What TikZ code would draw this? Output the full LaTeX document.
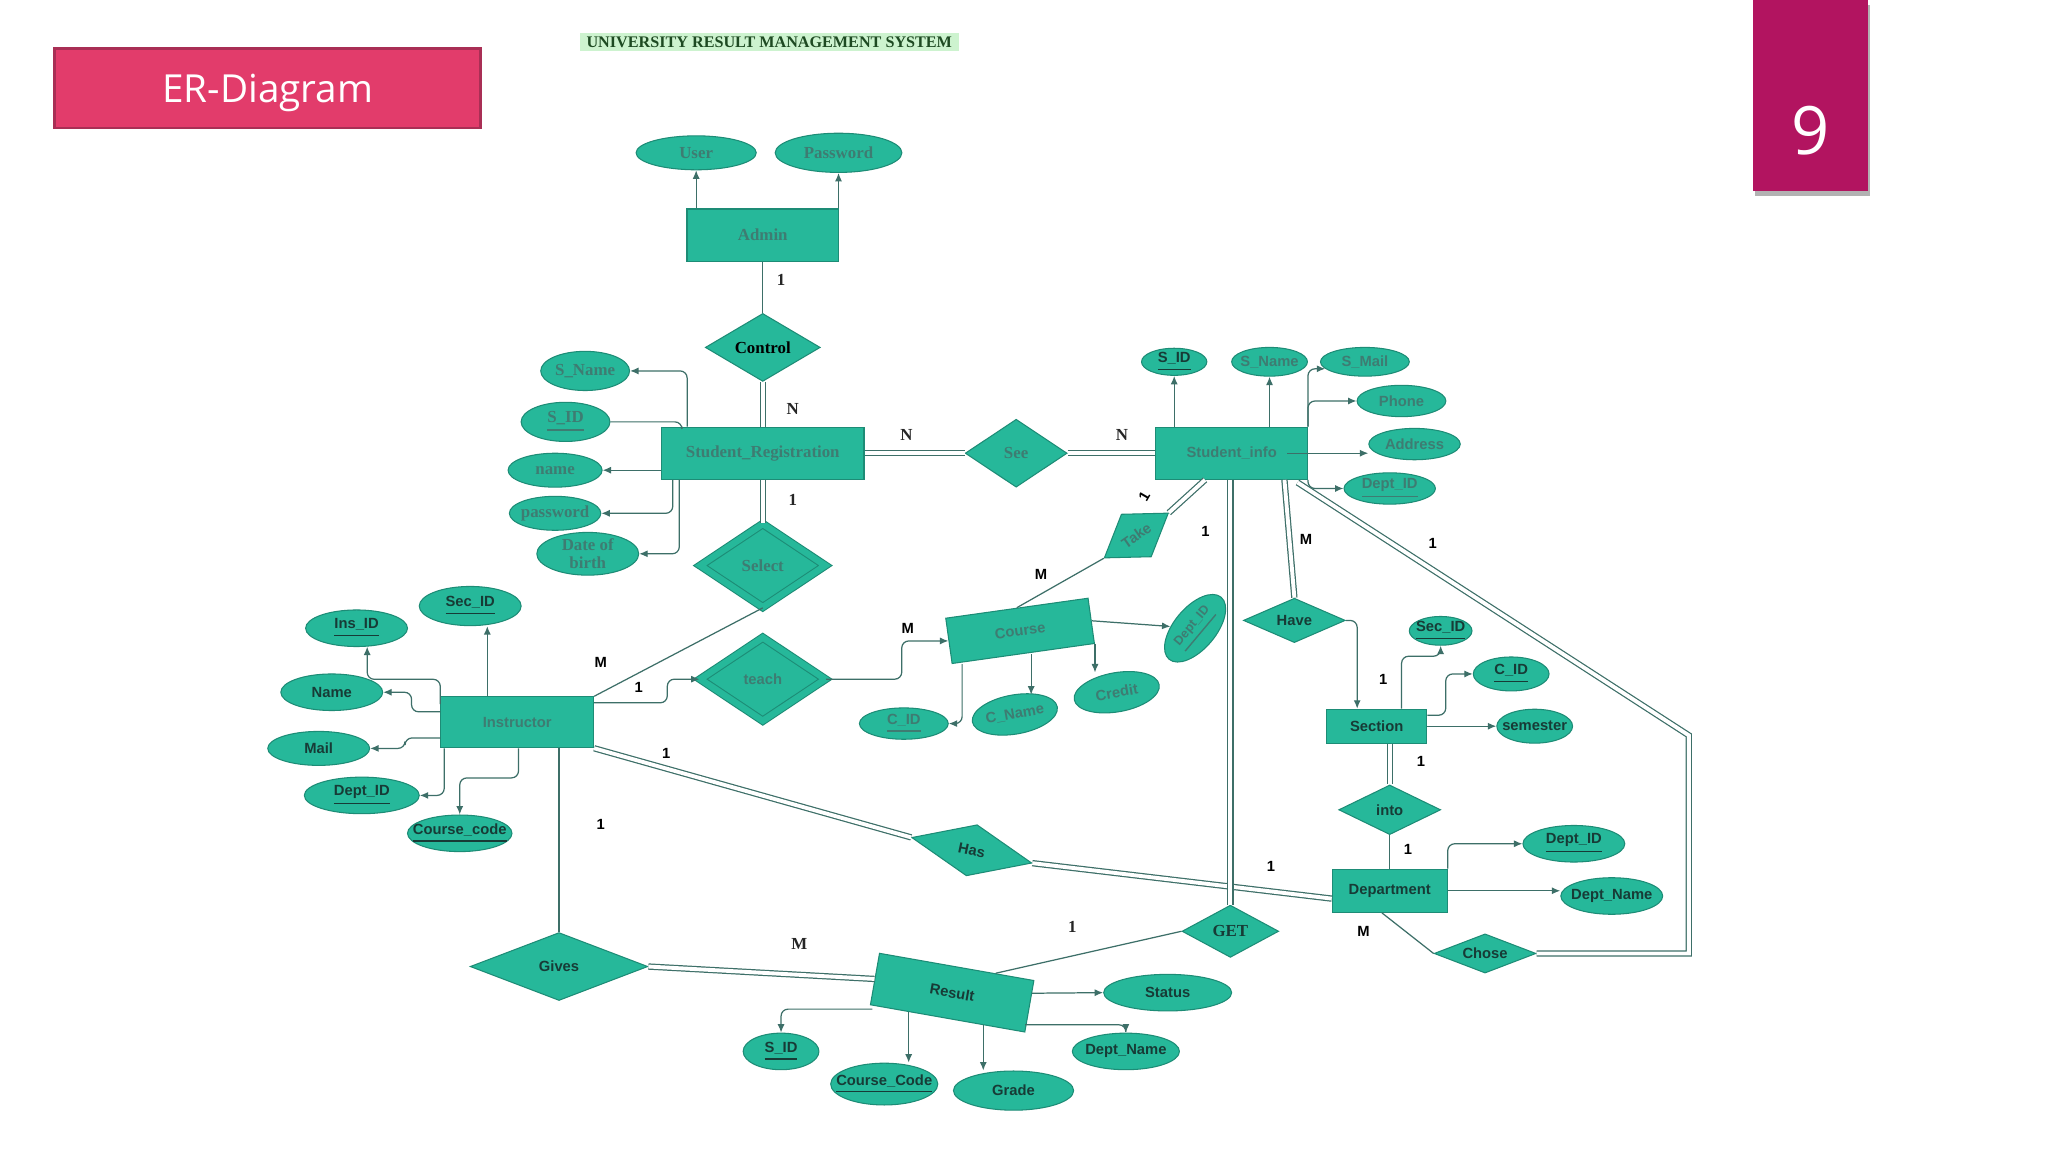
\documentclass[tikz,border=0pt]{standalone}
\usepackage{fontspec}
\setmainfont{Liberation Serif}
\setsansfont{Liberation Sans}
\newfontfamily\slidefont{Open Sans}
\usetikzlibrary{shapes.geometric,arrows.meta,calc}

\definecolor{erfill}{HTML}{26B89A}
\definecolor{erline}{HTML}{1D8C76}
\definecolor{edgec}{HTML}{3D6F68}
\definecolor{ink}{HTML}{173B36}
\definecolor{dim}{HTML}{3E7C72}
\definecolor{titlepink}{HTML}{E23C6B}
\definecolor{titleedge}{HTML}{A92F55}
\definecolor{pagebox}{HTML}{B21460}
\definecolor{hilite}{HTML}{CDF3CF}
\definecolor{titleink}{HTML}{1E4A22}

\def\pxu{0.013061cm}
\newcommand\sfn{\sffamily\bfseries\fontsize{4.2}{5}\selectfont}
\newcommand\rmn{\rmfamily\bfseries\fontsize{4.8}{5.2}\selectfont}

\tikzset{
  base/.style={draw=erline, fill=erfill, line width=0.3pt, inner sep=0pt, font=\sfn, text=ink},
  ent/.style={base, rectangle},
  att/.style={base, ellipse,
    execute at begin node={\hbox to 0pt\bgroup\hss},
    execute at end node={\hss\egroup}},
  rel/.style={att, diamond},
  wrel/.style={rel, double=erfill, double distance=1.8pt},
  sz/.style 2 args={minimum width=#1*\pxu, minimum height=#2*\pxu},
  tms/.style={font=\rmn},
  pale/.style={text=dim},
  ln/.style={draw=edgec, line width=0.35pt},
  dln/.style={ln, double=white, double distance=1.1pt},
  arr/.style={ln, -{Latex[length=2.4pt,width=2pt]}, rounded corners=2pt},
  card/.style={font=\sfn, text=black},
  cardr/.style={font=\rmn, text=black!85},
}

\begin{document}
\begin{tikzpicture}[x=\pxu, y=-\pxu]

\useasboundingbox (0,0) rectangle (1568,882);
\fill[white] (0,0) rectangle (1568,882);

% Slide title and page number
\node[draw=titleedge, fill=titlepink, line width=0.8pt, sz={326}{61}, text depth=0pt,
      font=\slidefont\fontsize{11}{13}\selectfont, text=white] (slidetitle) at (205,67.5) {ER-Diagram};

\fill[black!30] (1344,4) rectangle (1432,150);
\fill[pagebox] (1342,0) rectangle (1430,146);
\node[font=\slidefont\fontsize{19}{19}\selectfont, text=white] (pgnum) at (1386,100) {9};

\node[fill=hilite, font=\rmfamily\bfseries\fontsize{4.6}{5}\selectfont, text=titleink,
      inner xsep=2pt, inner ysep=1pt] (heading) at (589,32) {UNIVERSITY RESULT MANAGEMENT SYSTEM};

% Admin
\node[ent, tms, pale, sz={116}{40}] (admin) at (584,180) {Admin};
\node[att, tms, pale, sz={92}{26}] (user) at (533,117) {User};
\node[att, tms, pale, sz={97}{30}] (pass) at (642,117) {Password};
\node[rel, tms, sz={88}{52}, text=black] (control) at (584,266) {Control};

\draw[arr] (user.south |- admin.north) -- (user.south);
\draw[arr] (pass.south |- admin.north) -- (pass.south);
\draw[ln] (admin) -- (control);

% Student_Registration
\node[ent, tms, pale, sz={155}{40}] (sreg) at (584,347) {Student\_Registration};
\node[att, tms, pale, sz={68}{30}] (sname) at (448,284) {S\_Name};
\node[att, tms, pale, sz={68}{30}] (sid) at (433,323) {\underline{S\_ID}};
\node[att, tms, pale, sz={72}{26}] (name) at (425,360) {name};
\node[att, tms, pale, sz={70}{26}] (pwd) at (425,393) {password};
\node[att, tms, pale, sz={78}{30}] (dob) at (450,424) {\shortstack{Date of\\[-1.2pt]birth}};
\node[wrel, tms, pale, sz={96}{64}] (select) at (584,433) {Select};
\node[rel, tms, pale, sz={78}{52}] (see) at (778,347) {See};

\draw[dln] (control) -- (sreg);
\draw[arr] ($(sreg.north west)+(20,0)$) |- (sname.east);
\draw[ln, rounded corners=2pt] (sid.east) -| ($(sreg.north west)+(16,0)$);
\draw[arr] (sreg.west |- name.east) -- (name.east);
\draw[arr] ($(sreg.south west)+(9,0)$) |- (pwd.east);
\draw[arr] ($(sreg.south west)+(14,0)$) |- (dob.east);
\draw[dln] (sreg) -- (select);
\draw[dln] (sreg) -- (see);

% Student_info
\node[ent, pale, sz={116}{40}] (sinfo) at (943,347) {Student\_info};
\node[att, sz={50}{20}] (sid2) at (899,277) {\underline{S\_ID}};
\node[att, pale, sz={58}{22}] (sn2) at (972,277) {S\_Name};
\node[att, pale, sz={68}{22}] (smail) at (1045,277) {S\_Mail};
\node[att, pale, sz={68}{24}] (phone) at (1073,307) {Phone};
\node[att, pale, sz={70}{24}] (addr) at (1083,340) {Address};
\node[att, pale, sz={70}{24}] (did2) at (1064,374) {\underline{Dept\_ID}};

\draw[dln] (see) -- (sinfo);
\draw[arr] (sid2.south |- sinfo.north) -- (sid2.south);
\draw[arr] (sn2.south |- sinfo.north) -- (sn2.south);
\draw[arr] (sinfo.north east) |- (smail.190);
\draw[arr] (sinfo.north east) |- (phone.west);
\draw[arr] ($(sinfo.east)+(-16,0)$) -- (addr.west |- sinfo.east);
\draw[arr] (sinfo.south east) |- (did2.west);

% Course
\node[rel, pale, sz={60}{40}, rotate=35] (take) at (870,410) {Take};
\node[ent, pale, sz={110}{35}, rotate=8] (course) at (781,483) {Course};
\node[att, pale, sz={62}{32}, rotate=50, font=\sffamily\bfseries\fontsize{3.6}{4}\selectfont] (cdid) at (915,481) {\underline{Dept\_ID}};
\node[att, pale, sz={68}{24}] (cid) at (692,554) {\underline{C\_ID}};
\node[att, pale, sz={66}{30}, rotate=10] (cname) at (777,547) {C\_Name};
\node[att, pale, sz={66}{30}, rotate=10] (credit) at (855,530) {Credit};
\node[wrel, pale, sz={96}{64}] (teach) at (584,520) {teach};

\draw[dln] ($(sinfo.south west)+(38,0)$) -- (take.east);
\draw[ln] (take.west) -- (course.north);
\draw[arr] (course.east) -- (cdid);
\draw[arr] ($(course.south west)+(8,0)$) |- (cid.east);
\draw[arr] ($(course.south)+(6,0)$) coordinate (c1) -- (c1 |- cname.north);
\draw[arr] (course.south east) coordinate (c2) -- (c2 |- credit.north);
\draw[arr] (teach.east) -- ++(58,0) |- (course.west);

% Instructor
\node[ent, pale, sz={117}{39}] (instr) at (396,553) {Instructor};
\node[att, sz={78}{28}] (insid) at (273,481) {\underline{Ins\_ID}};
\node[att, sz={78}{30}] (secid) at (360,464) {\underline{Sec\_ID}};
\node[att, sz={78}{28}] (nm) at (254,530) {Name};
\node[att, sz={78}{26}] (mail) at (244,573) {Mail};
\node[att, sz={88}{28}] (idept) at (277,609) {\underline{Dept\_ID}};
\node[att, sz={80}{28}] (ccode) at (352,638) {\underline{Course\_code}};

\draw[ln] (select.south) -- (instr.north east);
\draw[arr] ($(instr.north west)+(0,6)$) |- ($(insid.-60)+(0,25)$) -- (insid.-60);
\draw[arr] ($(instr.north west)+(36,0)$) coordinate (i1) -- (i1 |- secid.south);
\draw[arr] ($(instr.west)+(0,-8)$) -- ++(-22,0) |- (nm.east);
\draw[arr] ($(instr.west)+(0,12)$) -- ++(-27,0) |- (mail.east);
\draw[arr] ($(instr.south west)+(3,0)$) |- (idept.east);
\draw[arr] ($(instr.south)+(1,0)$) |- ($(ccode.north)+(0,-28)$) -- (ccode.north);
\draw[arr] ($(instr.north east)+(0,5)$) -- ++(56,0) |- (teach.west);

% Section and Department
\node[rel, sz={78}{34}] (have) at (991,475) {Have};
\node[ent, sz={77}{26}] (section) at (1054,556) {Section};
\node[att, sz={48}{22}] (secid2) at (1103,483) {\underline{Sec\_ID}};
\node[att, sz={58}{26}] (cid2) at (1157,516) {\underline{C\_ID}};
\node[att, sz={58}{26}] (semester) at (1175,556) {semester};
\node[rel, sz={78}{38}] (into) at (1064,620) {into};
\node[ent, sz={88}{33}] (dept) at (1064,682) {Department};
\node[att, sz={78}{28}] (did3) at (1205,646) {\underline{Dept\_ID}};
\node[att, sz={78}{28}] (dname) at (1234,686) {Dept\_Name};
\node[rel, sz={78}{30}] (chose) at (1137,730) {Chose};
\coordinate (loopc) at (1293,563);

\draw[dln] ($(sinfo.south east)+(-18,0)$) -- (have.north);
\draw[arr] (have.east) -| ($(section.north west)+(24,0)$);
\draw[arr] ($(section.north west)+(58,0)$) |- ($(secid2.south)+(0,8)$) -- (secid2.south);
\draw[arr] ($(section.north east)+(0,5)$) -- ++(14,0) |- (cid2.west);
\draw[arr] (section.east) -- (semester.west);
\draw[dln] (into.north |- section.south) -- (into.north);
\draw[ln] (into) -- (dept);
\draw[arr] (dept.north east) |- (did3.west);
\draw[arr] (dept.east) -- (dname.west |- dept.east);
\draw[ln] ($(dept.south)+(-6,0)$) -- (chose.west);
\draw[dln] (chose.east) -| (loopc) -- ($(sinfo.south east)+(-8,2)$);

% Result
\node[rel, sz={94}{40}, rotate=-12] (has) at (744,651) {Has};
\node[rel, sz={136}{52}] (gives) at (428,740) {Gives};
\node[ent, sz={120}{40}, rotate=-10] (result) at (729,760) {Result};
\node[rel, tms, sz={74}{40}] (get) at (942,713) {GET};
\node[att, sz={98}{28}] (status) at (894,760) {Status};
\node[att, sz={82}{28}] (rdname) at (862,805) {Dept\_Name};
\node[att, sz={58}{28}] (rsid) at (598,805) {\underline{S\_ID}};
\node[att, sz={82}{32}] (rcc) at (677,830) {\underline{Course\_Code}};
\node[att, sz={92}{30}] (grade) at (776,835) {Grade};

\draw[dln] (instr.south east) -- (has.west);
\draw[dln] (has.east) -- ($(dept.west)+(0,6)$);
\draw[ln] (gives.north |- instr.south) -- (gives.north);
\draw[dln] (gives.east) -- (result.west);
\draw[dln] (get.north |- sinfo.south) -- (get.north);
\draw[ln] ($(result.north)!0.5!(result.north east)$) -- (get.west);
\draw[arr] ($(result.east)!0.5!(result.north east)$) -- (status.west);
\draw[arr] ($(result.south east)+(0,-6)$) -| (rdname.north);
\draw[arr] ($(result.south west)+(2,3)$) -| (rsid.north);
\draw[arr] ($(result.south west)!0.25!(result.south east)$) coordinate (r1) -- (r1 |- rcc.north);
\draw[arr] ($(result.south west)!0.73!(result.south east)$) coordinate (r2) -- (r2 |- grade.north);

% Cardinalities
\foreach \x/\y/\t in {598/214/1, 607/313/N, 607/383/1, 694/333/N, 859/333/N, 821/710/1, 612/723/M}
{
    \node[cardr] (card-\x-\y) at (\x,\y) {\t};
}
\foreach \x/\y/\t in {923/407/1, 1000/413/M, 1097/416/1, 797/440/M, 460/507/M, 489/526/1,
  695/481/M, 1059/520/1, 1088/583/1, 1078/650/1, 510/577/1, 460/631/1, 973/663/1, 1044/713/M}
{
    \node[card] (card-\x-\y) at (\x,\y) {\t};
}
\node[card, rotate=60] (card-take) at (876,380) {1};

\end{tikzpicture}
\end{document}
